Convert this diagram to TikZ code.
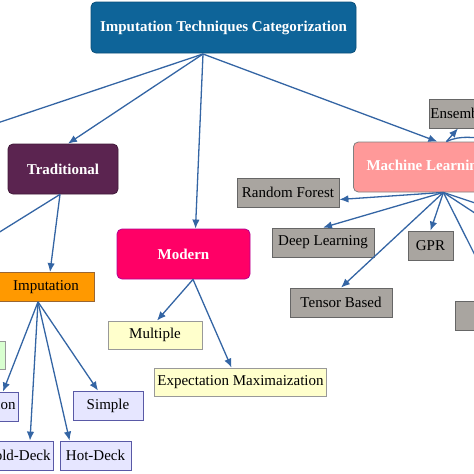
\documentclass[tikz,border=0pt]{standalone}
\usepackage{fontspec}
\setmainfont{Liberation Serif}
\usetikzlibrary{arrows.meta,positioning}
\definecolor{rootblue}{HTML}{0E6499}
\definecolor{tradpurple}{HTML}{5B2450}
\definecolor{modpink}{HTML}{FF0066}
\definecolor{mlsalmon}{HTML}{FF9999}
\definecolor{imporange}{HTML}{FF9900}
\definecolor{leafgray}{HTML}{A9A5A0}
\definecolor{leaflav}{HTML}{E6E6FF}
\definecolor{leafyel}{HTML}{FFFFCC}
\definecolor{leafgreen}{HTML}{D9FFD0}
\definecolor{linkblue}{HTML}{3465A4}

\begin{document}
\begin{tikzpicture}[
  x=1pt,y=-1pt,
  cat/.style={rounded corners=5pt,align=center,font=\fontsize{15}{17}\selectfont\bfseries,
              text=white,minimum height=50pt,inner sep=3pt,line width=0.8pt},
  leaf/.style={draw,align=center,font=\fontsize{15}{17}\selectfont,
               minimum height=29pt,inner xsep=3pt,inner ysep=2pt,line width=0.8pt},
  grayleaf/.style={leaf,fill=leafgray,draw=black!60},
  lavleaf/.style={leaf,fill=leaflav,draw=blue!30!gray},
  yelleaf/.style={leaf,fill=leafyel,draw=gray!80},
  arr/.style={-{Latex[length=9pt,width=7.5pt]},line width=1.3pt,draw=linkblue},
  lnk/.style={line width=1.3pt,draw=linkblue}
]
\useasboundingbox (0,0) rectangle (474,474);
\clip (0,0) rectangle (474,474);

% categories
\node[cat,fill=rootblue,draw=rootblue!80!black,minimum width=265pt,minimum height=51pt]
      (root) at (223.5,27.5) {Imputation Techniques Categorization};
\node[cat,fill=tradpurple,draw=tradpurple!70!black,minimum width=110pt] (trad) at (63,169) {Traditional};
\node[cat,fill=modpink,draw=modpink!70!blue,minimum width=133pt] (modern) at (183.5,254) {Modern};
\node[cat,fill=mlsalmon,draw=gray,minimum width=145pt,anchor=west] (ml) at (353,167) {Machine Learning};

% traditional branch
\node[leaf,fill=imporange,draw=brown!80!black,minimum width=96pt] (imput) at (46,287) {Imputation};
\node[lavleaf,anchor=east] (regr) at (19,406.5) {Regression};
\node[lavleaf,anchor=east] (cold) at (54,455.5) {Cold-Deck};
\node[lavleaf,minimum width=71pt] (hot) at (95.5,455.5) {Hot-Deck};
\node[lavleaf,minimum width=70pt] (simple) at (108,405.5) {Simple};
\node[leaf,fill=leafgreen,draw=gray!80,minimum width=30pt,minimum height=28pt,anchor=east] (grn) at (6,355) {};

% modern branch
\node[yelleaf,minimum width=94pt,minimum height=28pt] (mult) at (155,335) {Multiple};
\node[yelleaf,minimum width=171pt,minimum height=28pt] (em) at (240.5,382) {Expectation Maximaization};

% machine learning branch
\node[grayleaf,minimum width=60pt,anchor=west,inner xsep=1pt] (ens) at (429,113.5) {Ensemble};
\node[grayleaf,minimum width=102pt] (rf) at (288,192.5) {Random Forest};
\node[grayleaf,minimum width=102pt] (dl) at (323,242.5) {Deep Learning};
\node[grayleaf,minimum width=45pt] (gpr) at (430.5,245.5) {GPR};
\node[grayleaf,minimum width=102pt] (tensor) at (341,302.5) {Tensor Based};
\node[grayleaf,minimum width=40pt,anchor=west] (mlx) at (455,315.5) {};

% hubs and loose ends
\coordinate (hub) at (203,54);
\coordinate (tradhub) at ([xshift=-3pt]trad.south);
\coordinate (imphub) at ([xshift=-8pt]imput.south);
\coordinate (modhub) at ([xshift=9.5pt]modern.south);
\coordinate (mlhub) at ([xshift=17.5pt]ml.south);
\coordinate (mltop) at ([xshift=20.5pt]ml.north);
\coordinate (offa) at (-10,125.5);
\coordinate (offb) at (-10,238);
\coordinate (offc) at (490,208);
\coordinate (offd) at (490,223);
\coordinate (offe) at (490,285);
\coordinate (offf) at (490,138);

\draw[lnk] (hub) -- (offa);
\draw[arr] (hub) -- ([xshift=5pt]trad.north);
\draw[arr] (hub) -- ([xshift=12pt]modern.north);
\draw[arr] (hub) -- ([xshift=11.5pt]ml.north);

\draw[lnk] (tradhub) -- (offb);
\draw[arr] (tradhub) -- ([xshift=4pt]imput.north);

\draw[arr] (imphub) -- ([xshift=-16pt]regr.north east);
\draw[arr] (imphub) -- ([xshift=-24pt]cold.north east);
\draw[arr] (imphub) -- ([xshift=10pt]hot.north west);
\draw[arr] (imphub) -- ([xshift=-10pt]simple.north);

\draw[arr] (modhub) -- ([xshift=2pt]mult.north);
\draw[arr] (modhub) -- ([xshift=-9pt]em.north);

\draw[arr] (mlhub) -- ([yshift=-7pt]rf.east);
\draw[arr] (mlhub) -- (dl.north);
\draw[arr] (mlhub) -- (gpr.north);
\draw[arr] (mlhub) -- (tensor.north);
\draw[lnk] (mlhub) -- (offc);
\draw[lnk] (mlhub) -- (offd);
\draw[lnk] (mlhub) -- (offe);
\draw[arr] (mltop) -- ([xshift=-2pt]ens.south);
\draw[lnk] (mltop) to[out=25,in=182] (offf);
\end{tikzpicture}
\end{document}
